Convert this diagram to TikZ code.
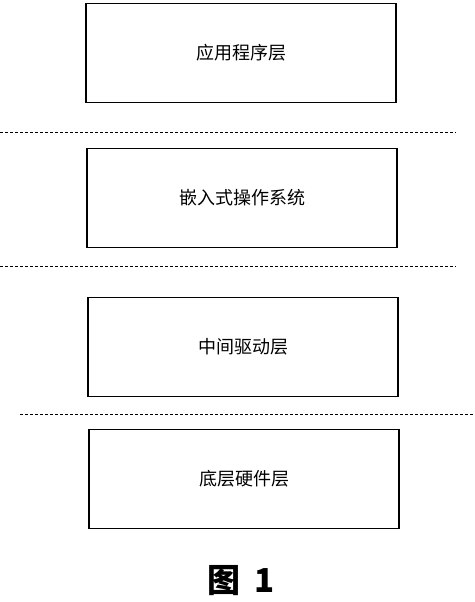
\documentclass[tikz,border=0pt]{standalone}
\usepackage{fontspec}
\usepackage{tikz}
\newfontfamily\cjk{Noto Sans CJK SC}
\tikzset{
    layerbox/.style = {draw, line width=1.1pt, minimum width=310pt, minimum height=99pt, font=\cjk\fontsize{18}{20}\selectfont},
    sepline/.style = {line width=0.7pt, dash pattern=on 3pt off 2pt}
}

\begin{document}
\begin{tikzpicture}[x = 1pt, y = -1pt]
    	\useasboundingbox (0,0) rectangle (474,602);
    	\node[layerbox] (app) at (241,53) {应用程序层};
    	\node[layerbox] (os) at (242,198) {嵌入式操作系统};
    	\node[layerbox] (drv) at (243,347) {中间驱动层};
    	\node[layerbox] (hw) at (244,479) {底层硬件层};
    	\coordinate (s1a) at (0,132);   \coordinate (s1b) at (456,132);
    	\coordinate (s2a) at (0,266);   \coordinate (s2b) at (456,266);
    	\coordinate (s3a) at (20,414);  \coordinate (s3b) at (474,414);
    	\draw[sepline] (s1a) -- (s1b);
    	\draw[sepline] (s2a) -- (s2b);
    	\draw[sepline] (s3a) -- (s3b);
    	\node[font=\cjk\bfseries\fontsize{33}{35}\selectfont] (cap) at (241,581) {图\hspace{14pt}1};
    \end{tikzpicture}
\end{document}
